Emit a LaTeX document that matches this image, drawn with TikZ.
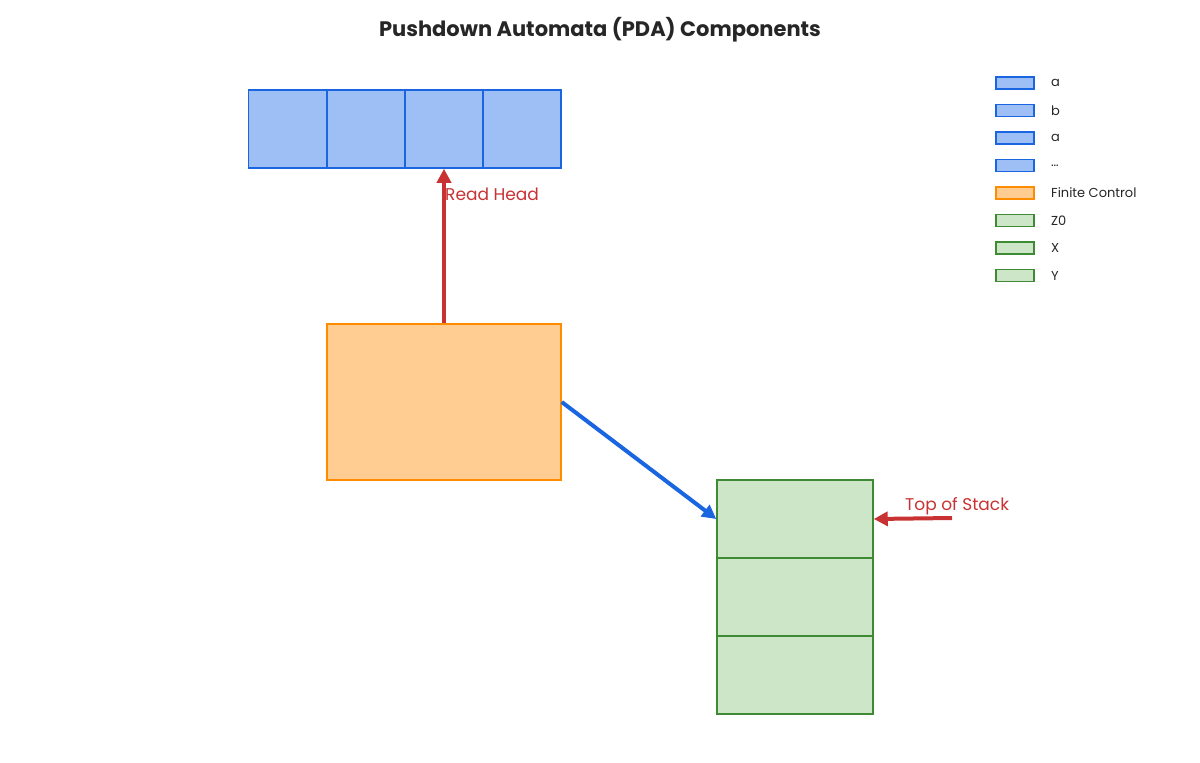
\documentclass[tikz,border=0pt]{standalone}
\usepackage{fontspec}
\setmainfont{Poppins}
\usetikzlibrary{arrows.meta, positioning}
\definecolor{tapefill}{HTML}{9DBFF5}
\definecolor{tapeline}{HTML}{1A66E0}
\definecolor{ctrlfill}{HTML}{FFCC91}
\definecolor{ctrlline}{HTML}{FF8C00}
\definecolor{stackfill}{HTML}{CDE6C8}
\definecolor{stackline}{HTML}{3F8A35}
\definecolor{headred}{HTML}{C83232}
\definecolor{titlegray}{HTML}{262626}
\tikzset{
  tape/.style={draw=tapeline, fill=tapefill, line width=1.5pt, minimum width=78pt, minimum height=78pt, inner sep=0pt},
  ctrl/.style={draw=ctrlline, fill=ctrlfill, line width=1.5pt, minimum width=234pt, minimum height=156pt},
  cell/.style={draw=stackline, fill=stackfill, line width=1.5pt, minimum width=156pt, minimum height=78pt, inner sep=0pt},
  key/.style={line width=1.5pt, minimum width=38pt, minimum height=12pt, inner sep=0pt},
  keytext/.style={right, font=\fontsize{13}{15}\selectfont, text=titlegray, inner sep=0pt},
  pointer/.style={line width=4pt, -{Triangle[length=14pt,width=14pt]}},
  label/.style={font=\fontsize{17}{19}\selectfont, text=headred, inner sep=0pt}
}
\begin{document}
\begin{tikzpicture}[x=1pt,y=-1pt]
\useasboundingbox (0,0) rectangle (1200,763);

% title
\node[font=\bfseries\fontsize{21}{24}\selectfont, text=titlegray] (title) at (600,30) {Pushdown Automata (PDA) Components};

% input tape
\node[tape] (t1) at (287.5,129) {};
\node[tape] (t2) at (366,129) {};
\node[tape] (t3) at (444,129) {};
\node[tape] (t4) at (522,129) {};

% finite control
\node[ctrl] (fc) at (444,402) {};

% stack
\node[cell] (s1) at (795,519) {};
\node[cell] (s2) at (795,597) {};
\node[cell] (s3) at (795,675) {};

% pointers
\draw[pointer, headred] (fc.north) -- (t3.south);
\node[label, anchor=west] (rh) at (445,194) {Read Head};
\draw[pointer, tapeline] (fc.east) -- (s1.west);
\coordinate (tos) at (952,518);
\draw[pointer, headred] (tos) -- (s1.east);
\node[label, anchor=west] (tl) at (905,506) {Top of Stack};

% legend
\foreach \i/\t/\c in {0/{a}/tape, 1/{b}/tape, 2/{a}/tape, 3/{\dots}/tape, 4/{Finite Control}/ctrl, 5/{Z0}/stack, 6/{X}/stack, 7/{Y}/stack}{
  \node[key, draw=\c line, fill=\c fill] (k\i) at (1015,83+27.5*\i) {};
  \node[keytext] (kt\i) at (1051,83+27.5*\i) {\t};
}
\end{tikzpicture}
\end{document}
